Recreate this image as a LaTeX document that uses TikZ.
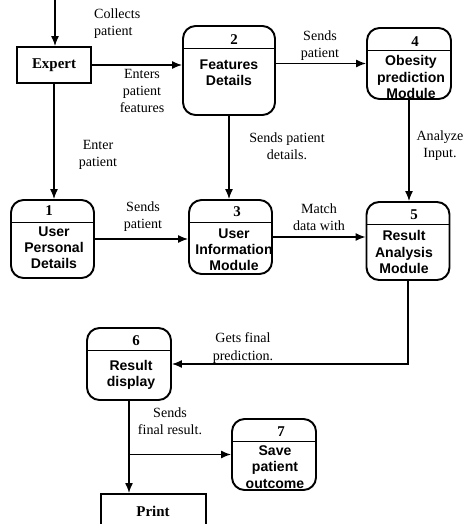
\documentclass[tikz,border=0pt]{standalone}
\usepackage{fontspec}
\setmainfont{Liberation Serif}
\setsansfont{Liberation Sans}
\usetikzlibrary{arrows.meta,positioning,calc}

\begin{document}
\begin{tikzpicture}[
    x=0.02cm, y=-0.02cm,
    proc/.style={rectangle, draw, rounded corners=0.25cm, line width=1.1pt},
    ext/.style={rectangle, draw, line width=1.1pt},
    num/.style={font=\fontsize{8.5}{10}\selectfont\bfseries},
    body/.style={font=\fontsize{8}{9.2}\selectfont\sffamily\bfseries, align=center},
    lbl/.style={font=\fontsize{8}{9.8}\selectfont, align=center},
    div/.style={line width=0.9pt},
    arrow/.style={-{Latex[length=2mm,width=1.6mm]}, line width=0.8pt}
]
\useasboundingbox (0,0) rectangle (474,524);
\clip (0,0) rectangle (474,524);

% External entities
\coordinate (src) at (55,0);
\node[ext, minimum width=1.48cm, minimum height=0.72cm, num] (expert) at (54,65) {Expert};
\node[ext, minimum width=2.1cm, minimum height=1.2cm, anchor=north] (prnt) at (153.5,493) {};
\node[num] at (153,511) {Print};

% Processes
\node[proc, minimum width=1.84cm, minimum height=1.78cm] (p2) at (229,70.5) {};
\node[proc, minimum width=1.68cm, minimum height=1.42cm] (p4) at (409,63.5) {};
\node[proc, minimum width=1.66cm, minimum height=1.56cm] (p1) at (52.5,239) {};
\node[proc, minimum width=1.66cm, minimum height=1.48cm] (p3) at (230.5,237) {};
\node[proc, minimum width=1.66cm, minimum height=1.56cm] (p5) at (408,241) {};
\node[proc, minimum width=1.68cm, minimum height=1.44cm] (p6) at (129,364) {};
\node[proc, minimum width=1.68cm, minimum height=1.42cm] (p7) at (274,454.5) {};

% Dividers
\draw[div] ([yshift=-0.47cm]p1.north west) -- ([yshift=-0.47cm]p1.north east);
\draw[div] ([yshift=-0.47cm]p2.north west) -- ([yshift=-0.47cm]p2.north east);
\draw[div] ([yshift=-0.47cm]p3.north west) -- ([yshift=-0.47cm]p3.north east);
\draw[div] ([yshift=-0.47cm]p4.north west) -- ([yshift=-0.47cm]p4.north east);
\draw[div] ([yshift=-0.47cm]p5.north west) -- ([yshift=-0.47cm]p5.north east);
\draw[div] ([yshift=-0.47cm]p6.north west) -- ([yshift=-0.47cm]p6.north east);
\draw[div] ([yshift=-0.47cm]p7.north west) -- ([yshift=-0.47cm]p7.north east);

% Numbers and names
\node[num] at (49,211) {1};
\node[num] at (234,40) {2};
\node[num] at (237,212) {3};
\node[num] at (415,42) {4};
\node[num] at (414,215) {5};
\node[num] at (136,341) {6};
\node[num] at (281,432) {7};

\node[body] at (54,248) {User\\Personal\\Details};
\node[body] at (229,73) {Features\\Details};
\node[body] at (234,250) {User\\Information\\Module};
\node[body] at (411,77) {Obesity\\prediction\\Module};
\node[body] at (404,252) {Result\\Analysis\\Module};
\node[body] at (131,375) {Result\\display};
\node[body] at (275,467) {Save\\patient\\outcome};

% Flows
\draw[arrow] (src) -- (src |- expert.north);
\draw[arrow] (expert.east) -- (expert.east -| p2.west);
\draw[arrow] (expert.south) -- (expert.south |- p1.north);
\draw[arrow] (p2.east |- p4.west) -- (p4.west);
\draw[arrow] (p2.south) -- (p2.south |- p3.north);
\draw[arrow] (p4.south) -- (p4.south |- p5.north);
\draw[arrow] (p1.east) -- (p1.east -| p3.west);
\draw[arrow] (p3.east) -- (p3.east -| p5.west);
\draw[arrow] (p5.south) |- (p6.east);
\draw[arrow] (p6.south) -- (p6.south |- prnt.north);
\coordinate (br) at (p6.south |- p7.west);
\draw[arrow] (br) -- (p7.west);

% Flow labels
\node[lbl, align=left, anchor=west] at (88,24) {Collects\\patient};
\node[lbl] at (142,91) {Enters\\patient\\features};
\node[lbl] at (98,155) {Enter\\patient};
\node[lbl] at (320,46) {Sends\\patient};
\node[lbl] at (287,146) {Sends patient\\details.};
\node[lbl] at (440,146) {Analyze\\Input.};
\node[lbl] at (143,217) {Sends\\patient};
\node[lbl] at (319,217) {Match\\data with};
\node[lbl] at (243,348) {Gets final\\prediction.};
\node[lbl] at (170,421) {Sends\\final result.};

\end{tikzpicture}
\end{document}
